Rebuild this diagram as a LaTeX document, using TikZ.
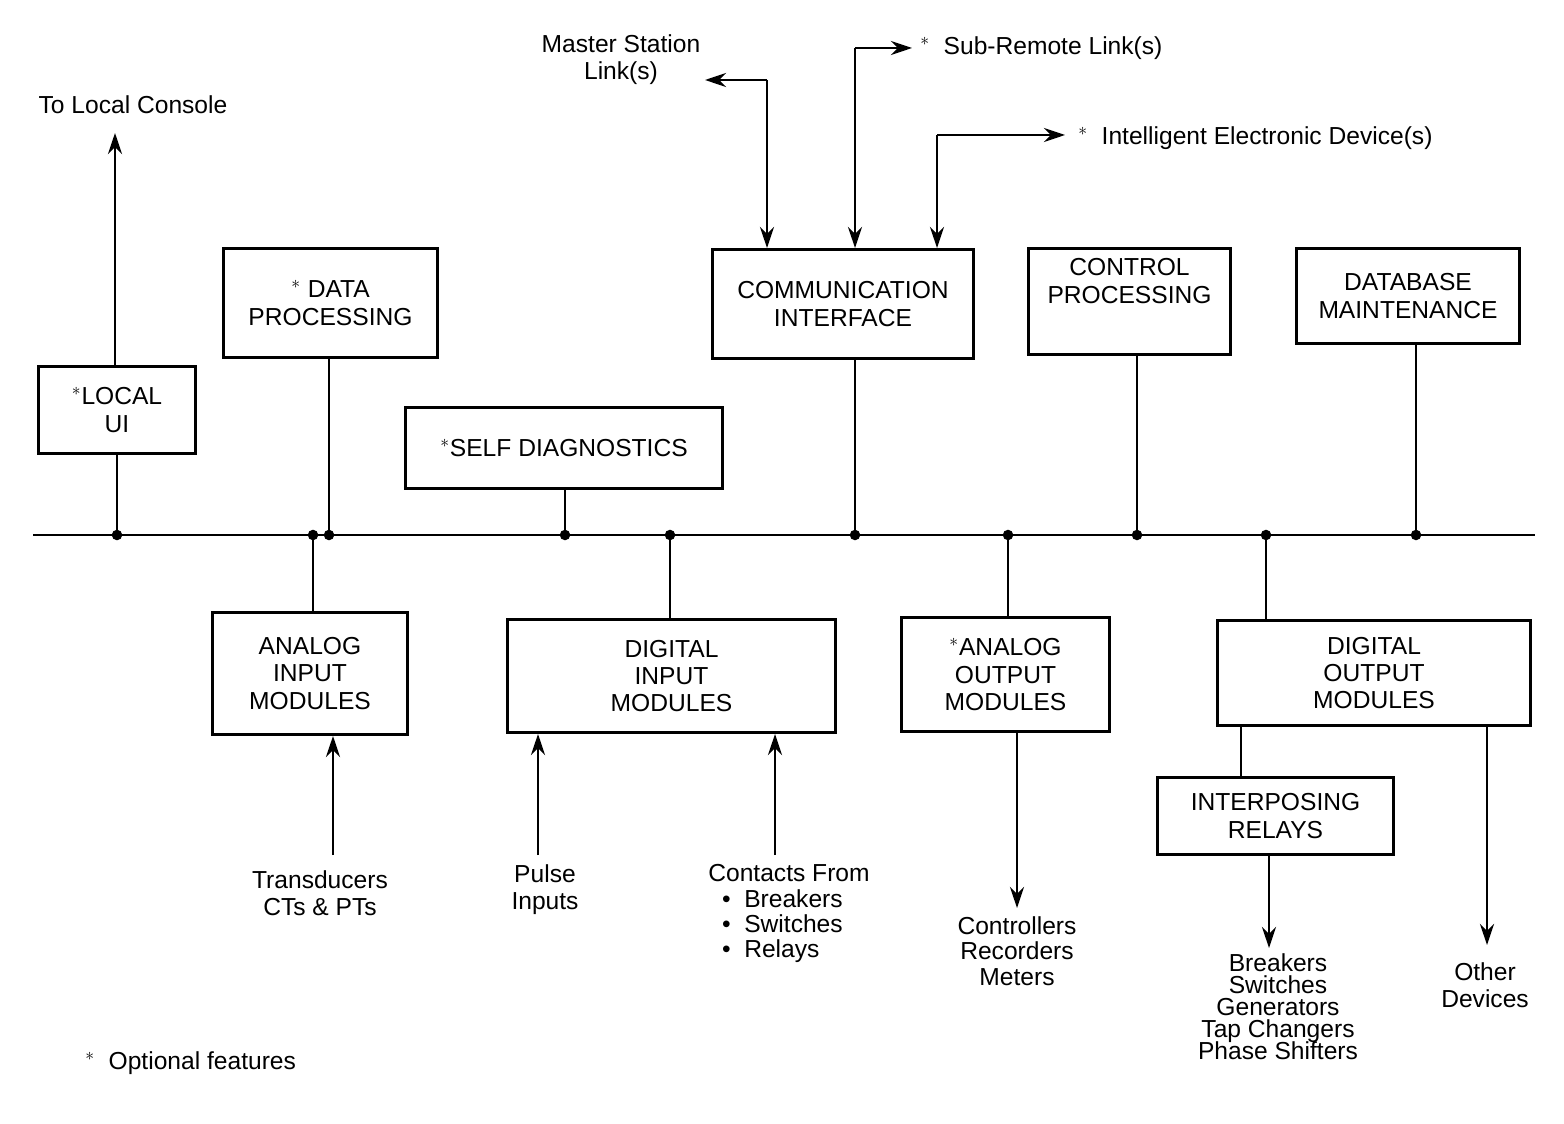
\documentclass[tikz,border=0pt]{standalone}
\usepackage{fontspec}
\setmainfont{Liberation Sans}
\usetikzlibrary{arrows.meta}
\begin{document}
\begin{tikzpicture}[x=0.02cm,y=-0.02cm,
  box/.style={draw,line width=1.6pt,inner sep=0pt,align=center,font=\fontsize{14}{15.5}\selectfont},
  txt/.style={align=center,font=\fontsize{14}{15.5}\selectfont,inner sep=0pt},
  ln/.style={line width=1.6pt},
  ar/.style={line width=1.6pt,-{Stealth[length=12pt,width=8pt]}},
  dot/.style={circle,fill,inner sep=0pt,minimum size=6pt}]
\useasboundingbox (0,0) rectangle (1564,1124);
\newcommand{\bx}[6]{\node[box,minimum width=#4*0.02cm-1.6pt,minimum height=#5*0.02cm-1.6pt] (#1) at (#2+#4/2,#3+#5/2) {#6};}
\bx{lui}{37}{365}{160}{90}{$^*$LOCAL\\UI}
\bx{dp}{222}{247}{217}{112}{$^*$ DATA\\PROCESSING}
\bx{sd}{404}{406}{320}{84}{$^*$SELF DIAGNOSTICS}
\bx{ci}{711}{248}{264}{112}{COMMUNICATION\\INTERFACE}
\bx{cp}{1027}{247}{205}{109}{CONTROL\\PROCESSING\\[8pt]}
\bx{db}{1295}{247}{226}{98}{DATABASE\\MAINTENANCE}
\bx{ai}{211}{611}{198}{125}{ANALOG\\INPUT\\MODULES}
\bx{di}{506}{618}{331}{116}{DIGITAL\\INPUT\\MODULES}
\bx{ao}{900}{616}{211}{117}{$^*$ANALOG\\OUTPUT\\MODULES}
\bx{do}{1216}{619}{316}{108}{DIGITAL\\OUTPUT\\MODULES}
\bx{ir}{1156}{776}{239}{80}{INTERPOSING\\RELAYS}
% bus
\coordinate (b0) at (33,535); \coordinate (b1) at (1535,535);
\draw[ln] (b0) -- (b1);
\foreach \n/\x in {lui/117,dp/329,sd/565,ci/855,cp/1137,db/1416}{
  \coordinate (t\n) at (\x,535); \draw[ln] (\n.south -| t\n) -- (t\n); \node[dot] at (t\n) {};}
\foreach \n/\x in {ai/313,di/670,ao/1008,do/1266}{
  \coordinate (t\n) at (\x,535); \draw[ln] (\n.north -| t\n) -- (t\n); \node[dot] at (t\n) {};}
% local console
\node[txt] (lc) at (133,105) {To Local Console};
\coordinate (lca) at (115,133);
\draw[ar] (lui.north -| lca) -- (lca);
% comm links
\node[txt] (ms) at (621,60) {Master Station\\Link(s)};
\coordinate (ms1) at (767,80); \coordinate (ms2) at (705,80);
\draw[ar] (ms1) -- (ms2);
\draw[ar] (ms1) -- (ci.north -| ms1);
\node[txt,anchor=west] (sr) at (920,48) {$^*$\ \ Sub-Remote Link(s)};
\coordinate (sr1) at (855,48); \coordinate (sr2) at (912,48);
\draw[ar] (sr1) -- (sr2);
\draw[ar] (sr1) -- (ci.north -| sr1);
\node[txt,anchor=west] (ied) at (1078,138) {$^*$\ \ Intelligent Electronic Device(s)};
\coordinate (ie1) at (937,135); \coordinate (ie2) at (1065,135);
\draw[ar] (ie1) -- (ie2);
\draw[ar] (ie1) -- (ci.north -| ie1);
% inputs
\node[txt] (tr) at (320,893) {Transducers\\CTs \& PTs};
\coordinate (tra) at (333,855); \draw[ar] (tra) -- (ai.south -| tra);
\node[txt] (pi) at (545,890) {Pulse\\Inputs};
\coordinate (pia) at (538,855); \draw[ar] (pia) -- (di.south -| pia);
\node[txt,anchor=north west,align=left] (cf) at (708,864) {Contacts From\\[-1pt]\ \ \textbullet\ \ Breakers\\[-1pt]\ \ \textbullet\ \ Switches\\[-1pt]\ \ \textbullet\ \ Relays};
\coordinate (cfa) at (775,855); \draw[ar] (cfa) -- (di.south -| cfa);
% outputs
\coordinate (aoa) at (1017,908); \draw[ar] (ao.south -| aoa) -- (aoa);
\node[txt,anchor=north] (crm) at (1017,916) {Controllers\\[-1pt]Recorders\\[-1pt]Meters};
\coordinate (dir) at (1241,700); \draw[ln] (do.south -| dir) -- (ir.north -| dir);
\coordinate (ira) at (1269,948); \draw[ar] (ir.south -| ira) -- (ira);
\node[txt,anchor=north] (bsg) at (1278,953) {Breakers\\[-3pt]Switches\\[-3pt]Generators\\[-3pt]Tap Changers\\[-3pt]Phase Shifters};
\coordinate (oda) at (1487,945); \draw[ar] (do.south -| oda) -- (oda);
\node[txt] (od) at (1485,985) {Other\\Devices};
\node[txt,anchor=west] (of) at (85,1063) {$^*$\ \ Optional features};
\end{tikzpicture}
\end{document}
